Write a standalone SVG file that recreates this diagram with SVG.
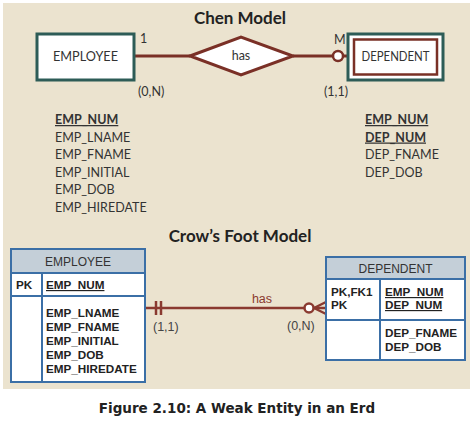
<svg xmlns="http://www.w3.org/2000/svg" width="474" height="430" viewBox="0 0 474 430">
<style>
.title{font-family:Lato,"Open Sans",sans-serif;font-weight:bold;font-size:17px;fill:#222;text-anchor:middle}
.chen{font-family:Lato,"Open Sans",sans-serif;font-size:12.5px;fill:#333}
.attr{font-family:Lato,"Open Sans",sans-serif;font-size:12.5px;fill:#333}
.key{font-weight:bold;text-decoration:underline}
.cf{font-family:"Liberation Sans",Arial,sans-serif;font-size:11.7px;font-weight:bold;fill:#222}
.hdr{font-family:"Liberation Sans",Arial,sans-serif;font-size:12px;fill:#333;text-anchor:middle}
.lbl{font-family:"Liberation Sans",Arial,sans-serif;font-size:12.5px;fill:#444}
.ent{fill:#fff;stroke:#2d5c57;stroke-width:3}
.rel{stroke:#7a3026;stroke-width:3;fill:none}
.tbl{fill:#fff;stroke:#3b6fa6;stroke-width:2}
.thd{fill:#c4cfd8;stroke:#3b6fa6;stroke-width:2}
.cfl{stroke:#8a3a30;stroke-width:2.5;fill:none}
</style>
<rect x="3" y="3" width="467" height="386" fill="#ebe3cf"/>
<text class="title" x="240" y="24">Chen Model</text>

<g id="connectors">
<line class="rel" x1="134" y1="56" x2="190" y2="56"/>
<line class="rel" x1="293" y1="56" x2="333" y2="56"/>
<circle cx="338" cy="56" r="5" fill="#fff" stroke="#7a3026" stroke-width="2.5"/>
<line class="rel" x1="343" y1="56" x2="348" y2="56"/>
<text class="chen" x="140" y="43">1</text>
<text class="chen" x="334" y="44">M</text>
<text class="chen" x="138" y="96">(0,N)</text>
<text class="chen" x="324" y="96">(1,1)</text>

<line class="cfl" x1="145" y1="308" x2="304" y2="308"/>
<line class="cfl" x1="156" y1="301" x2="156" y2="315"/>
<line class="cfl" x1="161" y1="301" x2="161" y2="315"/>
<circle cx="309" cy="308" r="4.5" fill="#fff" stroke="#8a3a30" stroke-width="2.5"/>
<line class="cfl" x1="314" y1="308" x2="326" y2="308"/>
<line class="cfl" x1="314" y1="308" x2="326" y2="302"/>
<line class="cfl" x1="314" y1="308" x2="326" y2="314"/>
<text class="lbl" x="262" y="303" text-anchor="middle" style="fill:#8a3a30">has</text>
<text class="lbl" x="153" y="331">(1,1)</text>
<text class="lbl" x="287" y="330">(0,N)</text>
</g>

<g id="chen-employee">
<rect class="ent" x="37" y="34" width="97" height="46"/>
<text class="chen" x="85.5" y="61" text-anchor="middle" font-size="12" textLength="65" lengthAdjust="spacingAndGlyphs">EMPLOYEE</text>
</g>
<g id="chen-has">
<polygon points="190,56 241,37 293,56 241,75" fill="#fff" stroke="#7a3026" stroke-width="3"/>
<text class="chen" x="241" y="60" text-anchor="middle" font-size="13">has</text>
</g>
<g id="chen-dependent">
<rect class="ent" x="348" y="34" width="95" height="46"/>
<rect x="354" y="39.5" width="83" height="35" fill="#fff" stroke="#7a3026" stroke-width="2.5"/>
<text class="chen" x="395.5" y="61" text-anchor="middle" font-size="12" textLength="68" lengthAdjust="spacingAndGlyphs">DEPENDENT</text>
</g>

<g id="employee-attrs">
<text class="attr key" x="55" y="124">EMP_NUM</text>
<text class="attr" x="55" y="141.5">EMP_LNAME</text>
<text class="attr" x="55" y="159">EMP_FNAME</text>
<text class="attr" x="55" y="176.5">EMP_INITIAL</text>
<text class="attr" x="55" y="194">EMP_DOB</text>
<text class="attr" x="55" y="211.5">EMP_HIREDATE</text>
</g>
<g id="dependent-attrs">
<text class="attr key" x="365" y="124">EMP_NUM</text>
<text class="attr key" x="365" y="141.5">DEP_NUM</text>
<text class="attr" x="365" y="159">DEP_FNAME</text>
<text class="attr" x="365" y="176.5">DEP_DOB</text>
</g>

<text class="title" x="240" y="242">Crow’s Foot Model</text>

<g id="cf-employee">
<rect class="tbl" x="11" y="249" width="134" height="133"/>
<rect class="thd" x="11" y="249" width="134" height="24"/>
<line stroke="#3b6fa6" stroke-width="2" x1="11" y1="296" x2="145" y2="296"/>
<line stroke="#3b6fa6" stroke-width="2" x1="42" y1="273" x2="42" y2="382"/>
<text class="hdr" x="78" y="265.5">EMPLOYEE</text>
<text class="cf" x="16" y="289">PK</text>
<text class="cf" x="46" y="289" text-decoration="underline">EMP_NUM</text>
<text class="cf" x="46" y="317">EMP_LNAME</text>
<text class="cf" x="46" y="330.5">EMP_FNAME</text>
<text class="cf" x="46" y="345">EMP_INITIAL</text>
<text class="cf" x="46" y="359">EMP_DOB</text>
<text class="cf" x="46" y="373">EMP_HIREDATE</text>
</g>

<g id="cf-dependent">
<rect class="tbl" x="326" y="257" width="139" height="103"/>
<rect class="thd" x="326" y="257" width="139" height="22"/>
<line stroke="#3b6fa6" stroke-width="2" x1="326" y1="320" x2="465" y2="320"/>
<line stroke="#3b6fa6" stroke-width="2" x1="380" y1="279" x2="380" y2="360"/>
<text class="hdr" x="395.5" y="272.5">DEPENDENT</text>
<text class="cf" x="331" y="296">PK,FK1</text>
<text class="cf" x="331" y="309">PK</text>
<text class="cf" x="385" y="296" text-decoration="underline">EMP_NUM</text>
<text class="cf" x="385" y="309" text-decoration="underline">DEP_NUM</text>
<text class="cf" x="385" y="337">DEP_FNAME</text>
<text class="cf" x="385" y="351">DEP_DOB</text>
</g>

<text x="237" y="413" text-anchor="middle" font-family="'DejaVu Sans',Verdana,sans-serif" font-weight="bold" font-size="13.5" fill="#222">Figure 2.10: A Weak Entity in an Erd</text>
</svg>
